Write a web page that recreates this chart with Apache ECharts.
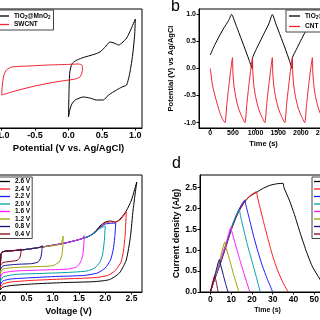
<!DOCTYPE html>
<html>
<head>
<meta charset="utf-8">
<script src="https://cdn.jsdelivr.net/npm/echarts@6/dist/echarts.min.js"></script>
<style>
  html, body { margin: 0; padding: 0; background: #fff; }
  #chart { width: 320px; height: 320px; }
</style>
</head>
<body>
<div id="chart"></div>
<script>
// ---- panel a: CV, current (arbitrary units)
const aBlack = [[0,-1.85],[0.005,-1.0],[0.01,-0.25],[0.02,0.4],[0.05,0.8],[0.1,0.95],[0.2,1.1],[0.3,1.2],[0.4,1.3],[0.47,1.4],[0.55,1.65],[0.62,1.9],[0.68,1.85],[0.75,1.75],[0.8,1.85],[0.87,2.1],[0.93,2.5],[1.0,3.05],
  [0.99,2.25],[0.96,1.25],[0.92,0.4],[0.87,-0.25],[0.8,-0.35],[0.72,-0.5],[0.6,-0.75],[0.52,-1.0],[0.42,-1.0],[0.32,-0.9],[0.22,-0.85],[0.1,-1.0],[0.05,-1.2],[0.02,-1.5],[0,-1.85]];
const aRed = [[-1.0,-0.75],[-0.99,-0.25],[-0.97,0.2],[-0.93,0.5],[-0.85,0.65],[-0.6,0.7],[-0.3,0.75],[0,0.78],[0.15,0.8],[0.2,0.75],[0.21,0.6],[0.2,0.35],[0.17,0.15],[0.1,0.05],[-0.2,-0.1],[-0.5,-0.3],[-0.8,-0.55],[-1.0,-0.75]];
const aTicks = [-1, -0.5, 0, 0.5, 1];

// ---- panel b: charge / discharge
const bBlack = [[0,0.25],[50,0.35],[100,0.44],[200,0.6],[300,0.75],[400,0.88],[470,1.0],[560,0.82],[650,0.62],[750,0.4],[850,0.17],[925,0],
  [935,0.2],[1000,0.33],[1100,0.5],[1200,0.67],[1300,0.84],[1370,1.0],[1450,0.82],[1550,0.6],[1650,0.38],[1750,0.14],[1806,0],
  [1815,0.2],[1900,0.35],[2000,0.52],[2100,0.68],[2200,0.84],[2290,1.0],[2380,0.8],[2500,0.55],[2600,0.3]];
const bRed = [[0,0],[50,-0.32],[125,-0.57],[200,-0.79],[260,-0.92],[324,-1.0],
  [364,-0.67],[404,-0.36],[444,-0.08],[490,0.2],
  [498,-0.05],[520,-0.3],[560,-0.52],[620,-0.73],[690,-0.88],[765,-1.0],
  [805,-0.67],[845,-0.36],[885,-0.08],[930,0.2],
  [938,-0.05],[960,-0.3],[1000,-0.52],[1060,-0.73],[1130,-0.88],[1205,-1.0],
  [1245,-0.67],[1285,-0.36],[1325,-0.08],[1370,0.2],
  [1378,-0.05],[1400,-0.3],[1440,-0.52],[1500,-0.73],[1570,-0.88],[1645,-1.0],
  [1685,-0.67],[1725,-0.36],[1765,-0.08],[1811,0.2],
  [1819,-0.05],[1841,-0.3],[1881,-0.52],[1941,-0.73],[2011,-0.88],[2086,-1.0],
  [2126,-0.67],[2166,-0.36],[2206,-0.08],[2255,0.2],
  [2263,-0.05],[2285,-0.3],[2325,-0.52],[2385,-0.73],[2455,-0.88],[2530,-1.0]];
const bTimeTicks = [0, 500, 1000, 1500, 2000, 2500];
const bPotTicks = [-1, -0.5, 0, 0.5, 1];

// ---- panel c: CV at different voltage windows
const c26 = [[0,-2.0],[0.005,-0.7],[0.015,-0.25],[0.04,-0.1],[0.1,-0.06],[0.4,0],[0.8,0.15],[1.2,0.33],[1.4,0.45],[1.6,0.6],[1.7,0.7],[1.8,0.9],[1.9,1.2],[2.0,1.4],[2.1,1.45],[2.2,1.4],[2.3,1.6],[2.4,1.95],[2.5,2.5],[2.6,3.4],[2.53,2.0],[2.48,0.67],[2.4,-0.5],[2.27,-1.15],[2.08,-1.48],[1.8,-1.58],[1.2,-1.63],[0.6,-1.7],[0.2,-1.78],[0.05,-1.86],[0,-2.0]];
const c24 = [[0,-1.9],[0.005,-0.7],[0.015,-0.25],[0.04,-0.1],[0.1,-0.06],[0.4,0],[0.8,0.15],[1.2,0.33],[1.4,0.45],[1.6,0.6],[1.7,0.7],[1.8,0.88],[1.9,1.15],[2.0,1.35],[2.1,1.4],[2.2,1.4],[2.3,1.55],[2.4,1.9],[2.38,0.8],[2.35,0],[2.3,-0.6],[2.2,-1.0],[2.05,-1.27],[1.8,-1.38],[1.2,-1.45],[0.6,-1.52],[0.2,-1.6],[0.05,-1.7],[0,-1.9]];
const c22 = [[0,-1.75],[0.005,-0.65],[0.015,-0.25],[0.04,-0.1],[0.1,-0.06],[0.4,0],[0.8,0.15],[1.2,0.33],[1.4,0.45],[1.6,0.6],[1.7,0.7],[1.8,0.87],[1.9,1.12],[2.0,1.3],[2.1,1.33],[2.2,1.35],[2.18,0.6],[2.15,0],[2.1,-0.5],[2.0,-0.9],[1.85,-1.15],[1.6,-1.27],[1.0,-1.33],[0.5,-1.4],[0.2,-1.45],[0.05,-1.55],[0,-1.75]];
const c20 = [[0,-1.6],[0.005,-0.6],[0.015,-0.25],[0.04,-0.1],[0.1,-0.06],[0.4,0],[0.8,0.15],[1.2,0.33],[1.4,0.45],[1.6,0.6],[1.7,0.7],[1.8,0.86],[1.9,1.08],[2.0,1.2],[1.98,0.4],[1.95,-0.2],[1.9,-0.6],[1.8,-0.9],[1.65,-1.05],[1.3,-1.12],[0.8,-1.17],[0.3,-1.22],[0.05,-1.35],[0,-1.6]];
const c16 = [[0,-1.4],[0.005,-0.55],[0.015,-0.22],[0.04,-0.1],[0.1,-0.06],[0.4,0],[0.8,0.15],[1.2,0.33],[1.4,0.45],[1.55,0.56],[1.6,0.72],[1.59,0.2],[1.57,-0.3],[1.52,-0.65],[1.45,-0.85],[1.3,-0.95],[0.8,-1.0],[0.3,-1.05],[0.05,-1.15],[0,-1.4]];
const c12 = [[0,-1.2],[0.005,-0.5],[0.015,-0.2],[0.04,-0.1],[0.1,-0.06],[0.4,0],[0.8,0.15],[1.15,0.3],[1.2,0.7],[1.19,0.1],[1.17,-0.3],[1.12,-0.6],[1.0,-0.78],[0.7,-0.83],[0.3,-0.87],[0.05,-0.95],[0,-1.2]];
const c08 = [[0,-1.0],[0.005,-0.45],[0.015,-0.2],[0.04,-0.1],[0.1,-0.06],[0.4,0],[0.75,0.13],[0.8,0.22],[0.79,-0.1],[0.77,-0.4],[0.72,-0.6],[0.6,-0.68],[0.3,-0.72],[0.05,-0.8],[0,-1.0]];
const c04 = [[0,-0.8],[0.005,-0.4],[0.015,-0.18],[0.04,-0.1],[0.1,-0.06],[0.35,0],[0.4,0.05],[0.39,-0.2],[0.37,-0.4],[0.32,-0.52],[0.2,-0.57],[0.05,-0.63],[0,-0.8]];
const cTicks = [0, 0.5, 1, 1.5, 2, 2.5];

// ---- panel d: charge / discharge at different voltages
const d26 = [[0,0],[2,0.3],[4.5,0.64],[7.7,1.12],[10,1.48],[13.2,1.88],[16.4,2.15],[19,2.29],[22,2.38],[25,2.47],[28.5,2.55],[32,2.59],[35,2.6],[35.4,2.5],[38,2.2],[40.5,1.85],[43,1.45],[46,1.0],[49,0.62],[52.8,0.3],[55,0.12],[56.5,0]];
const d24 = [[0,0],[2,0.3],[4.5,0.64],[7.7,1.12],[10,1.5],[13.2,1.9],[16.4,2.17],[19,2.3],[22.2,2.4],[22.5,2.3],[24,2.0],[26,1.6],[28,1.22],[30,0.86],[32.5,0.5],[35,0.22],[37.5,0]];
const d22 = [[0,0],[2,0.3],[4.5,0.66],[7.7,1.15],[10,1.52],[13.2,1.92],[16.6,2.2],[17,2.1],[19,1.7],[21,1.3],[23,0.95],[25,0.63],[27.5,0.3],[30,0]];
const d20 = [[0,0],[2,0.31],[4.5,0.67],[7.7,1.17],[10,1.53],[14,1.97],[14.3,1.87],[16,1.5],[18,1.1],[20,0.74],[22,0.38],[24,0]];
const d16 = [[0,0],[2,0.32],[4.5,0.7],[7.7,1.2],[10,1.55],[10.3,1.45],[12,1.15],[14,0.8],[16,0.47],[19,0]];
const d12 = [[0,0],[2,0.33],[4.5,0.75],[7,1.2],[7.3,1.1],[9,0.82],[11,0.45],[13.7,0]];
const d08 = [[0,0],[2,0.36],[4.4,0.78],[4.7,0.7],[6,0.45],[7.3,0.2],[8.5,0]];
const d04 = [[0,0],[2.2,0.4],[2.4,0.33],[3,0.2],[3.7,0]];
const dTimeTicks = [0, 10, 20, 30, 40, 50];
const dCurTicks = [0, 0.5, 1, 1.5, 2, 2.5];

const vNames = ["2.6 V", "2.4 V", "2.2 V", "2.0 V", "1.6 V", "1.2 V", "0.8 V", "0.4 V"];
const vColors = ["#000000", "#ff1a1a", "#1a1aff", "#00a0a0", "#ff1aff", "#a0a000", "#101080", "#800010"];
const cData = [c26, c24, c22, c20, c16, c12, c08, c04];
const dData = [d26, d24, d22, d20, d16, d12, d08, d04];

const FONT = "'Liberation Sans', Arial, sans-serif";
const RED = "#ee2233";

function fmt1(v) { return v.toFixed(1); }
function fmtInt(v) { return String(v); }

function xAx(gridIndex, min, max, ticks, name, fs, nameFs, nameGap, margin, formatter) {
  return {
    type: "value", gridIndex: gridIndex, min: min, max: max,
    name: name, nameLocation: "middle", nameGap: nameGap,
    nameTextStyle: { fontFamily: FONT, fontWeight: "bold", fontSize: nameFs, color: "#000" },
    axisLine: { onZero: false, lineStyle: { color: "#000", width: 1 } },
    axisTick: { length: 2.5, customValues: ticks, lineStyle: { color: "#000" } },
    axisLabel: { customValues: ticks, margin: margin, fontFamily: FONT, fontWeight: "bold", fontSize: fs, color: "#000", formatter: formatter },
    splitLine: { show: false },
  };
}

function yAx(gridIndex, min, max, ticks, name, fs, nameFs, nameGap, margin) {
  return {
    type: "value", gridIndex: gridIndex, min: min, max: max,
    name: name, nameLocation: "middle", nameGap: nameGap,
    nameTextStyle: { fontFamily: FONT, fontWeight: "bold", fontSize: nameFs, color: "#000" },
    axisLine: { onZero: false, lineStyle: { color: "#000", width: 1 } },
    axisTick: { show: !!ticks, length: 2.5, customValues: ticks || [], lineStyle: { color: "#000" } },
    axisLabel: { show: !!ticks, customValues: ticks || [], margin: margin, fontFamily: FONT, fontWeight: "bold", fontSize: fs, color: "#000", formatter: fmt1 },
    splitLine: { show: false },
  };
}

function lineSeries(name, data, color, xi) {
  return {
    name: name, type: "line", data: data, xAxisIndex: xi, yAxisIndex: xi,
    symbol: "none", smooth: 0.2, animation: false,
    lineStyle: { color: color, width: 1 }, itemStyle: { color: color },
  };
}

function legendText(lh) {
  return {
    fontFamily: FONT, fontWeight: "bold", fontSize: 6.5, color: "#000",
    rich: {
      n: { fontFamily: FONT, fontWeight: "bold", fontSize: 6.5, color: "#000", lineHeight: lh },
      s: { fontFamily: FONT, fontWeight: "bold", fontSize: 4.5, color: "#000", lineHeight: lh, padding: [3, 0, 0, 0] },
    },
  };
}
function legendFmt(name) {
  if (name === "TiO2@MnO2") return "{n|TiO}{s|2}{n|@MnO}{s|2}";
  return "{n|" + name + "}";
}
// legend icon is a thin rect so it reads as a short line segment
function legendBox(left, top, data, itemWidth, itemGap, padding, lh) {
  return {
    left: left, top: top, orient: "vertical", data: data, icon: "rect",
    itemWidth: itemWidth, itemHeight: 1.3, itemGap: itemGap, padding: padding,
    backgroundColor: "#fff", borderColor: "#444", borderWidth: 1,
    textStyle: legendText(lh), formatter: legendFmt, selectedMode: false,
  };
}

// panels partly run off the picture, so no outer-bounds squeezing
function panel(left, top, width, height) {
  return { left: left, top: top, width: width, height: height, show: true, borderColor: "#000", borderWidth: 1, outerBoundsMode: "none", containLabel: false };
}

const series = [
  lineSeries("TiO2@MnO2", aBlack, "#000", 0),
  lineSeries("SWCNT", aRed, RED, 0),
  lineSeries("TiO2@MnO2", bBlack, "#000", 1),
  lineSeries("CNT", bRed, RED, 1),
];
cData.forEach((d, i) => series.push(lineSeries(vNames[i], d, vColors[i], 2)));
dData.forEach((d, i) => series.push(lineSeries(vNames[i], d, vColors[i], 3)));

const chart = echarts.init(document.getElementById("chart"));
chart.setOption({
  backgroundColor: "#fff",
  animation: false,
  grid: [
    panel(-5, 9, 147, 119),
    panel(199, 9, 129, 119),
    panel(-5, 175, 147, 117),
    panel(200, 175, 135, 117),
  ],
  xAxis: [
    xAx(0, -1.1, 1.1, aTicks, "Potential (V vs. Ag/AgCl)", 9, 9.5, 15, 3, fmt1),
    xAx(1, -250, 2600, bTimeTicks, "Time (s)", 7, 7.5, 12, 2, fmtInt),
    xAx(2, -0.1, 2.7, cTicks, "Voltage (V)", 8.5, 9, 15, 2, fmt1),
    xAx(3, -5, 60, dTimeTicks, "Time (s)", 8.5, 7, 15, 3, fmtInt),
  ],
  yAxis: [
    yAx(0, -2.4, 3.55, null, "", 9, 9, 20, 3),
    yAx(1, -1.1, 1.1, bPotTicks, "Potential (V) vs Ag/AgCl", 7, 7.5, 24, 3),
    yAx(2, -2.1, 3.75, null, "", 9, 9, 20, 3),
    yAx(3, 0, 2.8, dCurTicks, "Current density (A/g)", 8.5, 9, 19, 3),
  ],
  legend: [
    legendBox(-10, 10, ["TiO2@MnO2", "SWCNT"], 16, 1, [2, 3, 2, 3], 8),
    legendBox(286, 10, ["TiO2@MnO2", "CNT"], 11, 3, [2, 3, 2, 3], 8.5),
    legendBox(-8, 177, vNames, 16, 0.5, [1, 2, 1, 2], 7.5),
    legendBox(312, 177, vNames, 16, 0.5, [1, 2, 1, 2], 7.5),
  ],
  graphic: [
    { type: "text", left: 171, top: -1, style: { text: "b", font: "16px " + FONT, fill: "#000" } },
    { type: "text", left: 172, top: 156, style: { text: "d", font: "16px " + FONT, fill: "#000" } },
  ],
  series: series,
});
</script>
</body>
</html>
